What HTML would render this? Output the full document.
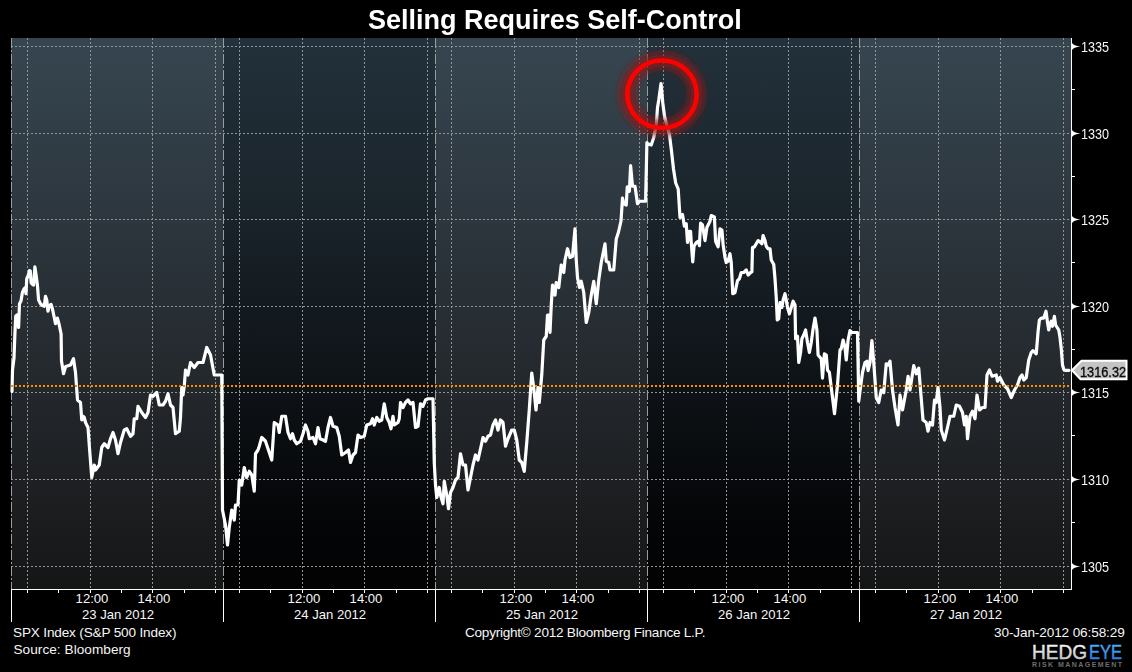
<!DOCTYPE html>
<html><head><meta charset="utf-8"><title>Selling Requires Self-Control</title>
<style>
html,body{margin:0;padding:0;background:#000;}
body{width:1132px;height:672px;overflow:hidden;position:relative;font-family:"Liberation Sans",sans-serif;color:#fff;}
.t,.ax,.tc{position:absolute;white-space:nowrap;font-size:13px;line-height:14px;color:#f6f6f6;}
.ax{font-size:14px;transform:scaleX(0.9);transform-origin:0 0;}
.tc{font-size:13.5px;transform:translateX(-50%) scaleX(0.97);}
.title{position:absolute;left:368px;top:2.6px;font-weight:bold;font-size:28.5px;line-height:32px;color:#fff;white-space:nowrap;transform:scaleX(0.948);transform-origin:0 0;}
.logo{position:absolute;left:1031px;top:643px;width:92px;height:26px;}
</style></head><body>
<svg width="1132" height="672" viewBox="0 0 1132 672" style="position:absolute;left:0;top:0"><defs>
<linearGradient id="gl" x1="0" y1="0" x2="0" y2="1">
<stop offset="0" stop-color="#364650"/><stop offset="0.29" stop-color="#2e3840"/><stop offset="0.88" stop-color="#1b1c1e"/><stop offset="1" stop-color="#141616"/>
</linearGradient>
<linearGradient id="gd" x1="0" y1="0" x2="0" y2="1">
<stop offset="0" stop-color="#22313b"/><stop offset="0.29" stop-color="#1b252c"/><stop offset="0.88" stop-color="#040507"/><stop offset="1" stop-color="#030303"/>
</linearGradient>
<pattern id="ph" x="3" y="0" width="4" height="1" patternUnits="userSpaceOnUse"><rect x="0" y="0" width="2" height="1" fill="#949494"/></pattern>
<pattern id="pv" x="0" y="2" width="1" height="4" patternUnits="userSpaceOnUse"><rect x="0" y="0" width="1" height="2" fill="#949494"/></pattern>
<pattern id="po" x="3" y="0" width="4" height="4" patternUnits="userSpaceOnUse"><rect x="0" y="0" width="2" height="4" fill="#ff8c00"/></pattern>
<pattern id="ps" x="0" y="6" width="1" height="16" patternUnits="userSpaceOnUse"><rect x="0" y="0" width="1" height="10" fill="#9c9c9c"/><rect x="0" y="12" width="1" height="2" fill="#9c9c9c"/></pattern>
<filter id="glow" x="-50%" y="-50%" width="200%" height="200%"><feGaussianBlur stdDeviation="3"/></filter>
</defs><rect x="11" y="38" width="212" height="551" fill="url(#gl)"/><rect x="223" y="38" width="212" height="551" fill="url(#gd)"/><rect x="435" y="38" width="212" height="551" fill="url(#gl)"/><rect x="647" y="38" width="212" height="551" fill="url(#gd)"/><rect x="859" y="38" width="212" height="551" fill="url(#gl)"/><rect x="11" y="46" width="1060" height="1" fill="url(#ph)"/><rect x="11" y="133" width="1060" height="1" fill="url(#ph)"/><rect x="11" y="219" width="1060" height="1" fill="url(#ph)"/><rect x="11" y="306" width="1060" height="1" fill="url(#ph)"/><rect x="11" y="392" width="1060" height="1" fill="url(#ph)"/><rect x="11" y="479" width="1060" height="1" fill="url(#ph)"/><rect x="11" y="566" width="1060" height="1" fill="url(#ph)"/><rect x="27" y="38" width="1" height="551" fill="url(#pv)"/><rect x="90" y="38" width="1" height="551" fill="url(#pv)"/><rect x="152" y="38" width="1" height="551" fill="url(#pv)"/><rect x="215" y="38" width="1" height="551" fill="url(#pv)"/><rect x="239" y="38" width="1" height="551" fill="url(#pv)"/><rect x="302" y="38" width="1" height="551" fill="url(#pv)"/><rect x="364" y="38" width="1" height="551" fill="url(#pv)"/><rect x="427" y="38" width="1" height="551" fill="url(#pv)"/><rect x="451" y="38" width="1" height="551" fill="url(#pv)"/><rect x="514" y="38" width="1" height="551" fill="url(#pv)"/><rect x="576" y="38" width="1" height="551" fill="url(#pv)"/><rect x="639" y="38" width="1" height="551" fill="url(#pv)"/><rect x="663" y="38" width="1" height="551" fill="url(#pv)"/><rect x="726" y="38" width="1" height="551" fill="url(#pv)"/><rect x="788" y="38" width="1" height="551" fill="url(#pv)"/><rect x="851" y="38" width="1" height="551" fill="url(#pv)"/><rect x="875" y="38" width="1" height="551" fill="url(#pv)"/><rect x="938" y="38" width="1" height="551" fill="url(#pv)"/><rect x="1000" y="38" width="1" height="551" fill="url(#pv)"/><rect x="1063" y="38" width="1" height="551" fill="url(#pv)"/><rect x="11" y="38" width="1" height="551" fill="url(#ps)"/><rect x="223" y="38" width="1" height="551" fill="url(#ps)"/><rect x="435" y="38" width="1" height="551" fill="url(#ps)"/><rect x="647" y="38" width="1" height="551" fill="url(#ps)"/><rect x="859" y="38" width="1" height="551" fill="url(#ps)"/><path d="M12,391.5 12.5,370 14,358 14.9,334 15.75,316.25 17,315 18.6,327.5 19.5,303.75 21,301 22.4,292.5 24,289 25.5,287.5 26,293.75 26.75,278.75 28,276 29.5,270.6 30.3,271 31.1,282.5 32.4,284.4 33.6,285 34.9,266.9 36.1,275 37.4,285 38.6,300 40.5,303.75 42.4,305.6 44.25,306.25 45.5,296.25 46.75,300 48,311.25 49.25,305.6 51.1,304.4 52.4,308.75 54.25,317.5 55.5,323.75 57.4,318.1 59.25,325 61.1,334 61.5,361 63.5,373.75 65.6,366.5 70.5,365 73.5,358.75 75.5,372.5 77.5,400 80.5,402.5 81.75,420 83,416.25 84.25,417.5 85.5,422.5 88,427.5 89.25,445 91.75,477.5 94.25,465 95.5,470 99.25,465 101.75,447.5 104.25,443.75 108,447.5 110.5,438.75 113,432.5 115.5,440 118,453.75 120.5,442.5 124.25,430 126.75,428.75 130.5,436.25 133,433.75 134.25,418.75 136.75,418.75 138,406.25 141.75,412.5 145.5,417.5 148,412.5 150.5,395 153,396.25 156.75,392.5 159.25,405 163,405 165.5,401.25 168,393.75 170.5,405 173,407.5 175.5,433.75 179.25,431.25 180.5,417.5 181.75,387.5 183,395 184.25,386.25 185.5,370 188,375 190.5,362.5 194.25,367.5 198,362.5 203,362.5 206.75,347.5 210.5,355 214.25,375 221.75,375 222.5,510 225.5,525 227.5,545 229.25,527.5 231.75,510 234.25,520 235.5,505 238,505 239.25,480 241.75,485 244.25,467.5 246.75,477.5 249.25,471.25 251.75,475 254.25,491.25 255.5,453.75 258,450 259.25,446.25 261.75,437.5 265.5,441.25 269.25,452.5 271.75,460 274.25,422.5 278,425 279.25,432.5 281.75,416.25 285.5,416.25 288,432.5 290.5,438.75 292.5,433.75 294.25,440 296.75,443.75 300.5,441.25 303,433.75 305.5,425 308,431.25 309.25,438.75 313,437.5 315.5,443.75 318,427.5 320,438.75 323,440 325.5,441.25 328,427.5 330.5,417.5 333,426.25 336.75,427.5 339.25,436.25 341.75,455 345.5,452.5 348.5,450 350.5,462.5 353,455 355.5,452.5 358,435 360.5,437.5 364.25,436.25 366.75,425 370.5,423.75 372.5,418.75 374.25,425 376.75,417.5 379.25,421.25 381.75,420 384.25,403.75 386.75,417.5 389.25,422.5 391,428.75 393,416.25 394.25,425 398,422.5 399.25,418.75 400.5,402.5 403,407.5 405.5,402.5 408,400 410.5,403.75 413,402.5 415.5,427.5 418,426.25 420.5,403.75 423,406.25 425.5,400 428,398.75 433,398.75 434.25,462.5 435.5,485 436.75,497.5 439.25,487.5 440.5,495 443,503.75 444.25,481.25 446.75,495 448.5,508.75 450.5,492.5 453,487.5 455.5,480 458,477.5 460.5,453.75 463,465 465.5,465 468,490 470.5,477.5 473,465 475.5,455 478,460 480.5,448.75 483,437.5 485.5,441.25 488,436.25 490.5,435 493,425 495.5,420 498,430 500.5,420 503,422.5 505.5,446.25 508,438.75 511.75,430 514.25,430 516.75,440 519.25,460 521.75,462.5 524.25,471.25 526.75,442.5 529.25,410 531.75,373 534.25,392.5 536,410 538,387.5 539.25,402.5 541.75,375 543.75,340 546.25,336.25 547.5,315 548.75,315 550,332.5 551.25,305 552.5,285 555,295 556.25,282.5 558.75,287.5 561.25,265 563.75,272.5 565,260 567.5,248.75 570,257.5 572.5,256.25 575,228.75 576.25,260 577.5,277.5 579.5,287.5 581.25,281.25 583.75,292.5 586.25,322.5 588.75,312.5 591.25,295 593.75,281.25 596.25,303.75 598.75,280 601.25,262.5 605,243.75 606.25,261.25 608.75,262.5 610,270 613.75,270 616.25,239 618.5,232 621,221 622.5,198.1 623.75,203.75 626.25,205 627.25,186.9 629.4,191.25 630.6,165.6 632.5,186.25 635,186.25 637.5,203.75 639.4,201.25 645.6,201.25 646.9,142.5 647.5,143.75 651.25,145 653.75,137.5 656.25,125 657.5,107.5 658.75,100 661,83.5 662.8,103 664.5,116 666.5,124 669.5,135 671.5,151 673.5,169 675.7,183 678.2,189 680,217.5 682.5,214.4 684.4,226.25 686.25,223.75 687.5,242.5 689.4,231.25 690.6,231.25 691.25,242.5 692.75,261.9 694,246.25 696.25,242.5 698.1,241.25 699.4,245.6 700.6,223.1 702.5,225 705,240.6 706.9,227.5 710,221.25 711.25,215.6 714.4,216.9 715.6,241.25 718.1,246.9 720,228.75 721.9,230 723.1,244.4 725,257.5 726.25,262.5 728.1,261.25 730,253.75 731.25,262.5 732.75,293.75 735,292.5 737.5,280.6 739.4,278.75 741.25,272.5 743.75,272.5 746.25,270 748.1,275 750.6,272.5 751.9,271.9 752.5,247.5 754.4,246.9 756.25,243.75 758.1,240.6 760,241.9 761.9,243.75 763.1,235.6 765,240.6 766.25,246.25 768.1,248.75 770,248.75 771.25,260 773.75,264.5 775,278.75 776.25,297.5 777.25,320 778.75,318.75 780,302.5 781.9,307.5 783.1,300 785,293.75 786.25,300 787.5,307.5 789.4,313.75 791.25,307.5 793.1,301.25 795,305 795.6,338.75 797.5,336.25 798.75,362.5 800.6,352.5 801.9,338.75 803.75,335 805.6,330 807.5,342.5 809.4,352.5 811.25,342.5 813.1,328.75 815,318.1 816.9,330 818.1,355 821.25,358.75 822.5,378.1 824.4,353.75 826.25,355 827.5,370 829.4,372.5 831.25,387.5 834.5,413.75 837.5,385 840,350 841.25,348.75 843.1,340 845,347.5 846.25,360 848.1,340 850,330.6 851.9,332.5 857.5,332.5 858.75,401.25 860,391.25 862.5,372.5 865,362.5 866.9,361.25 868.1,370.6 870,362.5 871.9,340.6 873.75,362.5 876.25,397.5 878.75,402.5 881.25,390 883.75,392.5 886.25,363.75 888.1,365 890,361.25 892.5,390 895,407.5 898,425 900,395 902.5,410 906.25,390 908.1,376.25 910,390 913.75,365.6 916.25,373.75 918.75,368.1 923,420 926.25,422.5 928,431.25 930,422.5 932.5,425 934.5,400 936.25,402.5 938,387.5 940,407.5 941.25,430 944.5,440 947.5,427.5 950,416.25 953.75,416.25 956.25,405 959.5,406.25 962.5,412.5 964.5,425 966.25,416.25 967.5,438.75 970,416.25 972.5,411.25 975,418.75 977,395 979.5,410 982.5,407.5 985,407.5 987,375 989.5,370 992,376.25 996.25,375 997.5,381.25 1000,377.5 1003.75,385 1007.5,388.75 1011.25,397.5 1014.5,390 1017.5,385 1020,377.5 1022,375 1023.75,380 1026.25,377.5 1028.75,360 1031.25,352.5 1033,350.6 1036.25,353.75 1038.1,331.25 1039.4,320 1041.25,318.1 1043.75,318.1 1046,311.25 1047.5,322.5 1048.75,330 1050,323.75 1051.25,321.25 1052.5,326.25 1054.4,316.25 1055.6,325 1058.75,330 1060,337.5 1061.25,348.75 1062.5,365 1063.75,369.4 1065,370.3 1069,370.3" fill="none" stroke="#ffffff" stroke-width="3.2" stroke-linejoin="round" stroke-linecap="round"/><rect x="11" y="385" width="1060" height="2" fill="url(#po)"/><ellipse cx="662" cy="94.2" rx="34.7" ry="33.7" fill="none" stroke="#8a1c1c" stroke-opacity="0.8" stroke-width="16" filter="url(#glow)"/><ellipse cx="662" cy="94.2" rx="34.7" ry="33.7" fill="none" stroke="#ff0000" stroke-width="4.6"/><rect x="1071" y="38" width="1" height="552" fill="#fff"/><rect x="11" y="589" width="1061" height="1" fill="#fff"/><path d="M1072,43.1 Q1073.5,45.8 1080.5,46.5 Q1073.5,47.2 1072,49.9 Z" fill="#fff"/><path d="M1072,130.1 Q1073.5,132.8 1080.5,133.5 Q1073.5,134.2 1072,136.9 Z" fill="#fff"/><path d="M1072,216.1 Q1073.5,218.8 1080.5,219.5 Q1073.5,220.2 1072,222.9 Z" fill="#fff"/><path d="M1072,303.1 Q1073.5,305.8 1080.5,306.5 Q1073.5,307.2 1072,309.9 Z" fill="#fff"/><path d="M1072,389.1 Q1073.5,391.8 1080.5,392.5 Q1073.5,393.2 1072,395.9 Z" fill="#fff"/><path d="M1072,476.1 Q1073.5,478.8 1080.5,479.5 Q1073.5,480.2 1072,482.9 Z" fill="#fff"/><path d="M1072,563.1 Q1073.5,565.8 1080.5,566.5 Q1073.5,567.2 1072,569.9 Z" fill="#fff"/><rect x="1072" y="89" width="3" height="1" fill="#fff"/><rect x="1072" y="176" width="3" height="1" fill="#fff"/><rect x="1072" y="262" width="3" height="1" fill="#fff"/><rect x="1072" y="349" width="3" height="1" fill="#fff"/><rect x="1072" y="435" width="3" height="1" fill="#fff"/><rect x="1072" y="522" width="3" height="1" fill="#fff"/><rect x="27" y="590" width="1" height="3" fill="#fff"/><rect x="58" y="590" width="1" height="3" fill="#fff"/><rect x="90" y="590" width="1" height="3" fill="#fff"/><rect x="121" y="590" width="1" height="3" fill="#fff"/><rect x="152" y="590" width="1" height="3" fill="#fff"/><rect x="184" y="590" width="1" height="3" fill="#fff"/><rect x="215" y="590" width="1" height="3" fill="#fff"/><rect x="239" y="590" width="1" height="3" fill="#fff"/><rect x="270" y="590" width="1" height="3" fill="#fff"/><rect x="302" y="590" width="1" height="3" fill="#fff"/><rect x="333" y="590" width="1" height="3" fill="#fff"/><rect x="364" y="590" width="1" height="3" fill="#fff"/><rect x="396" y="590" width="1" height="3" fill="#fff"/><rect x="427" y="590" width="1" height="3" fill="#fff"/><rect x="451" y="590" width="1" height="3" fill="#fff"/><rect x="482" y="590" width="1" height="3" fill="#fff"/><rect x="514" y="590" width="1" height="3" fill="#fff"/><rect x="545" y="590" width="1" height="3" fill="#fff"/><rect x="576" y="590" width="1" height="3" fill="#fff"/><rect x="608" y="590" width="1" height="3" fill="#fff"/><rect x="639" y="590" width="1" height="3" fill="#fff"/><rect x="663" y="590" width="1" height="3" fill="#fff"/><rect x="694" y="590" width="1" height="3" fill="#fff"/><rect x="726" y="590" width="1" height="3" fill="#fff"/><rect x="757" y="590" width="1" height="3" fill="#fff"/><rect x="788" y="590" width="1" height="3" fill="#fff"/><rect x="820" y="590" width="1" height="3" fill="#fff"/><rect x="851" y="590" width="1" height="3" fill="#fff"/><rect x="875" y="590" width="1" height="3" fill="#fff"/><rect x="906" y="590" width="1" height="3" fill="#fff"/><rect x="938" y="590" width="1" height="3" fill="#fff"/><rect x="969" y="590" width="1" height="3" fill="#fff"/><rect x="1000" y="590" width="1" height="3" fill="#fff"/><rect x="1032" y="590" width="1" height="3" fill="#fff"/><rect x="1063" y="590" width="1" height="3" fill="#fff"/><rect x="11" y="590" width="1" height="32" fill="#fff"/><rect x="223" y="590" width="1" height="32" fill="#fff"/><rect x="435" y="590" width="1" height="32" fill="#fff"/><rect x="647" y="590" width="1" height="32" fill="#fff"/><rect x="859" y="590" width="1" height="32" fill="#fff"/><path d="M1072,370.3 L1081.5,360.7 L1126.5,360.7 L1126.5,379.2 L1080.5,379.2 Z" fill="#c3c3c3" stroke="#ffffff" stroke-width="2" stroke-linejoin="miter"/></svg>
<div class="title">Selling Requires Self-Control</div>
<div class="ax" style="left:1081px;top:40px">1335</div><div class="ax" style="left:1081px;top:127px">1330</div><div class="ax" style="left:1081px;top:213px">1325</div><div class="ax" style="left:1081px;top:300px">1320</div><div class="ax" style="left:1081px;top:386px">1315</div><div class="ax" style="left:1081px;top:473px">1310</div><div class="ax" style="left:1081px;top:560px">1305</div><div class="tc" style="left:92px;top:592px">12:00</div><div class="tc" style="left:154px;top:592px">14:00</div><div class="tc" style="left:117.5px;top:607.5px">23 Jan 2012</div><div class="tc" style="left:304px;top:592px">12:00</div><div class="tc" style="left:366px;top:592px">14:00</div><div class="tc" style="left:329.5px;top:607.5px">24 Jan 2012</div><div class="tc" style="left:516px;top:592px">12:00</div><div class="tc" style="left:578px;top:592px">14:00</div><div class="tc" style="left:541.5px;top:607.5px">25 Jan 2012</div><div class="tc" style="left:728px;top:592px">12:00</div><div class="tc" style="left:790px;top:592px">14:00</div><div class="tc" style="left:753.5px;top:607.5px">26 Jan 2012</div><div class="tc" style="left:940px;top:592px">12:00</div><div class="tc" style="left:1002px;top:592px">14:00</div><div class="tc" style="left:965.5px;top:607.5px">27 Jan 2012</div>
<div class="t" style="left:1080.3px;top:365.2px;color:#0c0c0c;font-size:14px;transform:scaleX(0.91);transform-origin:0 0;-webkit-text-stroke:0.35px #0c0c0c;">1316.32</div>
<div class="t" style="left:13px;top:625.5px;font-size:13.6px;letter-spacing:-0.17px;">SPX Index (S&amp;P 500 Index)</div>
<div class="t" style="left:13.5px;top:642.5px;font-size:13.6px;letter-spacing:0.05px;">Source: Bloomberg</div>
<div class="t" style="left:465px;top:625.5px;font-size:13.6px;letter-spacing:-0.26px;">Copyright&copy; 2012 Bloomberg Finance L.P.</div>
<div class="t" style="left:994px;top:625.5px;font-size:13.6px;letter-spacing:-0.12px;">30-Jan-2012 06:58:29</div>
<svg class="logo" width="92" height="26" viewBox="0 0 92 26">
<defs>
<linearGradient id="lw" x1="0" y1="0" x2="0" y2="1"><stop offset="0" stop-color="#ffffff"/><stop offset="1" stop-color="#b8b8b8"/></linearGradient>
<linearGradient id="lb" x1="0" y1="0" x2="0" y2="1"><stop offset="0" stop-color="#5ab4ff"/><stop offset="1" stop-color="#1e78d8"/></linearGradient>
</defs>
<text x="1" y="16" font-family="Liberation Sans" font-size="19.5" fill="url(#lw)" stroke="url(#lw)" stroke-width="0.45" textLength="55" lengthAdjust="spacingAndGlyphs">HEDG</text>
<text x="58" y="16" font-family="Liberation Sans" font-size="19.5" fill="url(#lb)" stroke="url(#lb)" stroke-width="0.45" textLength="33" lengthAdjust="spacingAndGlyphs">EYE</text>
<text x="1" y="24" font-family="Liberation Sans" font-size="7" font-weight="bold" fill="#6e6e6e" textLength="90" lengthAdjust="spacing">RISK MANAGEMENT</text>
</svg>
</body></html>
